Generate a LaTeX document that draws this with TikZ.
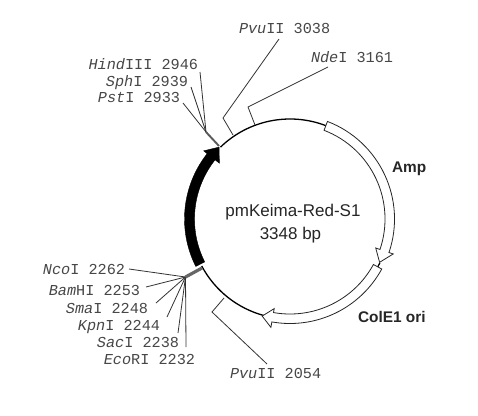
\documentclass[tikz,border=0pt]{standalone}
\usepackage{fontspec}
\setmainfont{Liberation Sans}
\setmonofont{Liberation Mono}
\definecolor{inkc}{gray}{0.28}
\newcommand{\enz}[2]{\textit{#1}#2}
\tikzset{
  sitelabel/.style={inner sep=0pt,outer sep=0pt,text=inkc,font=\fontsize{15.2pt}{15pt}\selectfont\ttfamily},
  boldlabel/.style={inner sep=0pt,outer sep=0pt,text=black!85,font=\fontsize{15.4pt}{15pt}\selectfont\bfseries},
  titlelabel/.style={inner sep=0pt,outer sep=0pt,text=black!85,font=\fontsize{17pt}{17pt}\selectfont},
  leader/.style={draw=black!80,line width=0.8pt},
  backbone/.style={draw=black,line width=1.3pt},
  featurearrow/.style={draw=black!85,fill=white,line width=0.8pt,line join=miter},
  insertarrow/.style={draw=black,fill=black,line width=0.4pt}
}
\begin{document}
\begin{tikzpicture}[x=1pt,y=1pt]
\useasboundingbox (0,-415) rectangle (478,0);
\fill[white] (0,-415) rectangle (478,0);

\begin{scope}[shift={(290,-219)}]
  % backbone
  \draw[backbone] (134:100pt) arc[start angle=134,end angle=69,radius=100pt];
  \draw[backbone] (-26:100pt) arc[start angle=-26,end angle=-29,radius=100pt];
  \draw[backbone] (-105:100pt) arc[start angle=-105,end angle=-152,radius=100pt];
  % Amp
  \path[featurearrow] (69:104.5pt) arc[start angle=69,end angle=-18.7,radius=104.5pt]
    -- (-18.7:109pt) -- (-25.8:99.5pt) -- (-18.7:90.5pt) -- (-18.7:95pt)
    arc[start angle=-18.7,end angle=69,radius=95pt] -- cycle;
  % ColE1 ori
  \path[featurearrow] (-28.6:104.5pt) arc[start angle=-28.6,end angle=-100,radius=104.5pt]
    -- (-100:110pt) -- (-106:101pt) -- (-100:91pt) -- (-100:95pt)
    arc[start angle=-100,end angle=-28.6,radius=95pt] -- cycle;
  % insert
  \path[insertarrow] (206.7:105.5pt) arc[start angle=206.7,end angle=141.7,radius=105.5pt]
    -- (141.7:110pt) -- (134.6:101pt) -- (141.7:90pt) -- (141.7:95.5pt)
    arc[start angle=141.7,end angle=206.7,radius=95.5pt] -- cycle;
\end{scope}

% centre text
\node[titlelabel,anchor=base] (name) at (293,-216.5) {pmKeima-Red-S1};
\node[titlelabel,anchor=base] (size) at (290.5,-239.5) {3348 bp};
\node[boldlabel,anchor=base west] (amp) at (392,-172) {Amp};
\node[boldlabel,anchor=base west] (ori) at (358,-322) {ColE1 ori};

% site labels
\node[sitelabel,anchor=base east] (hind) at (198,-69) {\enz{Hind}{III 2946}};
\node[sitelabel,anchor=base east] (sph) at (188,-86) {\enz{Sph}{I 2939}};
\node[sitelabel,anchor=base east] (pst) at (180,-102) {\enz{Pst}{I 2933}};
\node[sitelabel,anchor=base west] (pvua) at (239,-33) {\enz{Pvu}{II 3038}};
\node[sitelabel,anchor=base west] (nde) at (311,-62) {\enz{Nde}{I 3161}};
\node[sitelabel,anchor=base east] (nco) at (125,-274) {\enz{Nco}{I 2262}};
\node[sitelabel,anchor=base east] (bam) at (140,-295) {\enz{Bam}{HI 2253}};
\node[sitelabel,anchor=base east] (sma) at (148,-313) {\enz{Sma}{I 2248}};
\node[sitelabel,anchor=base east] (kpn) at (160,-330) {\enz{Kpn}{I 2244}};
\node[sitelabel,anchor=base east] (sac) at (179,-347) {\enz{Sac}{I 2238}};
\node[sitelabel,anchor=base east] (eco) at (195,-364) {\enz{Eco}{RI 2232}};
\node[sitelabel,anchor=base west] (pvub) at (230,-378) {\enz{Pvu}{II 2054}};

% leader ends
\coordinate (hindE) at (200,-72);
\coordinate (sphE) at (191,-87);
\coordinate (pstE) at (183,-103);
\coordinate (mcsA) at (206,-132);
\coordinate (mcsAc) at (219,-146);
\coordinate (pvuaE) at (279,-39);
\coordinate (pvuaK) at (223,-118);
\coordinate (pvuaC) at (233,-135);
\coordinate (ndeE) at (328,-67);
\coordinate (ndeK) at (248,-107);
\coordinate (ndeC) at (255,-125);
\coordinate (ncoE) at (129,-269);
\coordinate (bamE) at (146,-287);
\coordinate (smaE) at (156,-303);
\coordinate (kpnE) at (167,-317);
\coordinate (sacE) at (178,-333);
\coordinate (ecoE) at (186,-347);
\coordinate (mcsB) at (185.5,-277);
\coordinate (mcsBc) at (202,-268);
\coordinate (pvubE) at (267,-364);
\coordinate (pvubK) at (212,-312);
\coordinate (pvubC) at (224,-298);

\draw[leader] (pvuaE) -- (pvuaK) -- (pvuaC);
\draw[leader] (ndeE) -- (ndeK) -- (ndeC);
\draw[leader] (pvubE) -- (pvubK) -- (pvubC);
\draw[leader] (hindE) -- (mcsA);
\draw[leader] (sphE) -- (mcsA);
\draw[leader] (pstE) -- (mcsA);
\draw[draw=black!65,line width=1.9pt] (mcsA) -- (mcsAc);
\draw[leader] (ncoE) -- (mcsB);
\draw[leader] (bamE) -- (mcsB);
\draw[leader] (smaE) -- (mcsB);
\draw[leader] (kpnE) -- (mcsB);
\draw[leader] (sacE) -- (mcsB);
\draw[leader] (ecoE) -- (mcsB);
\draw[draw=black!60,line width=3.2pt] (mcsB) -- (mcsBc);
\end{tikzpicture}
\end{document}
